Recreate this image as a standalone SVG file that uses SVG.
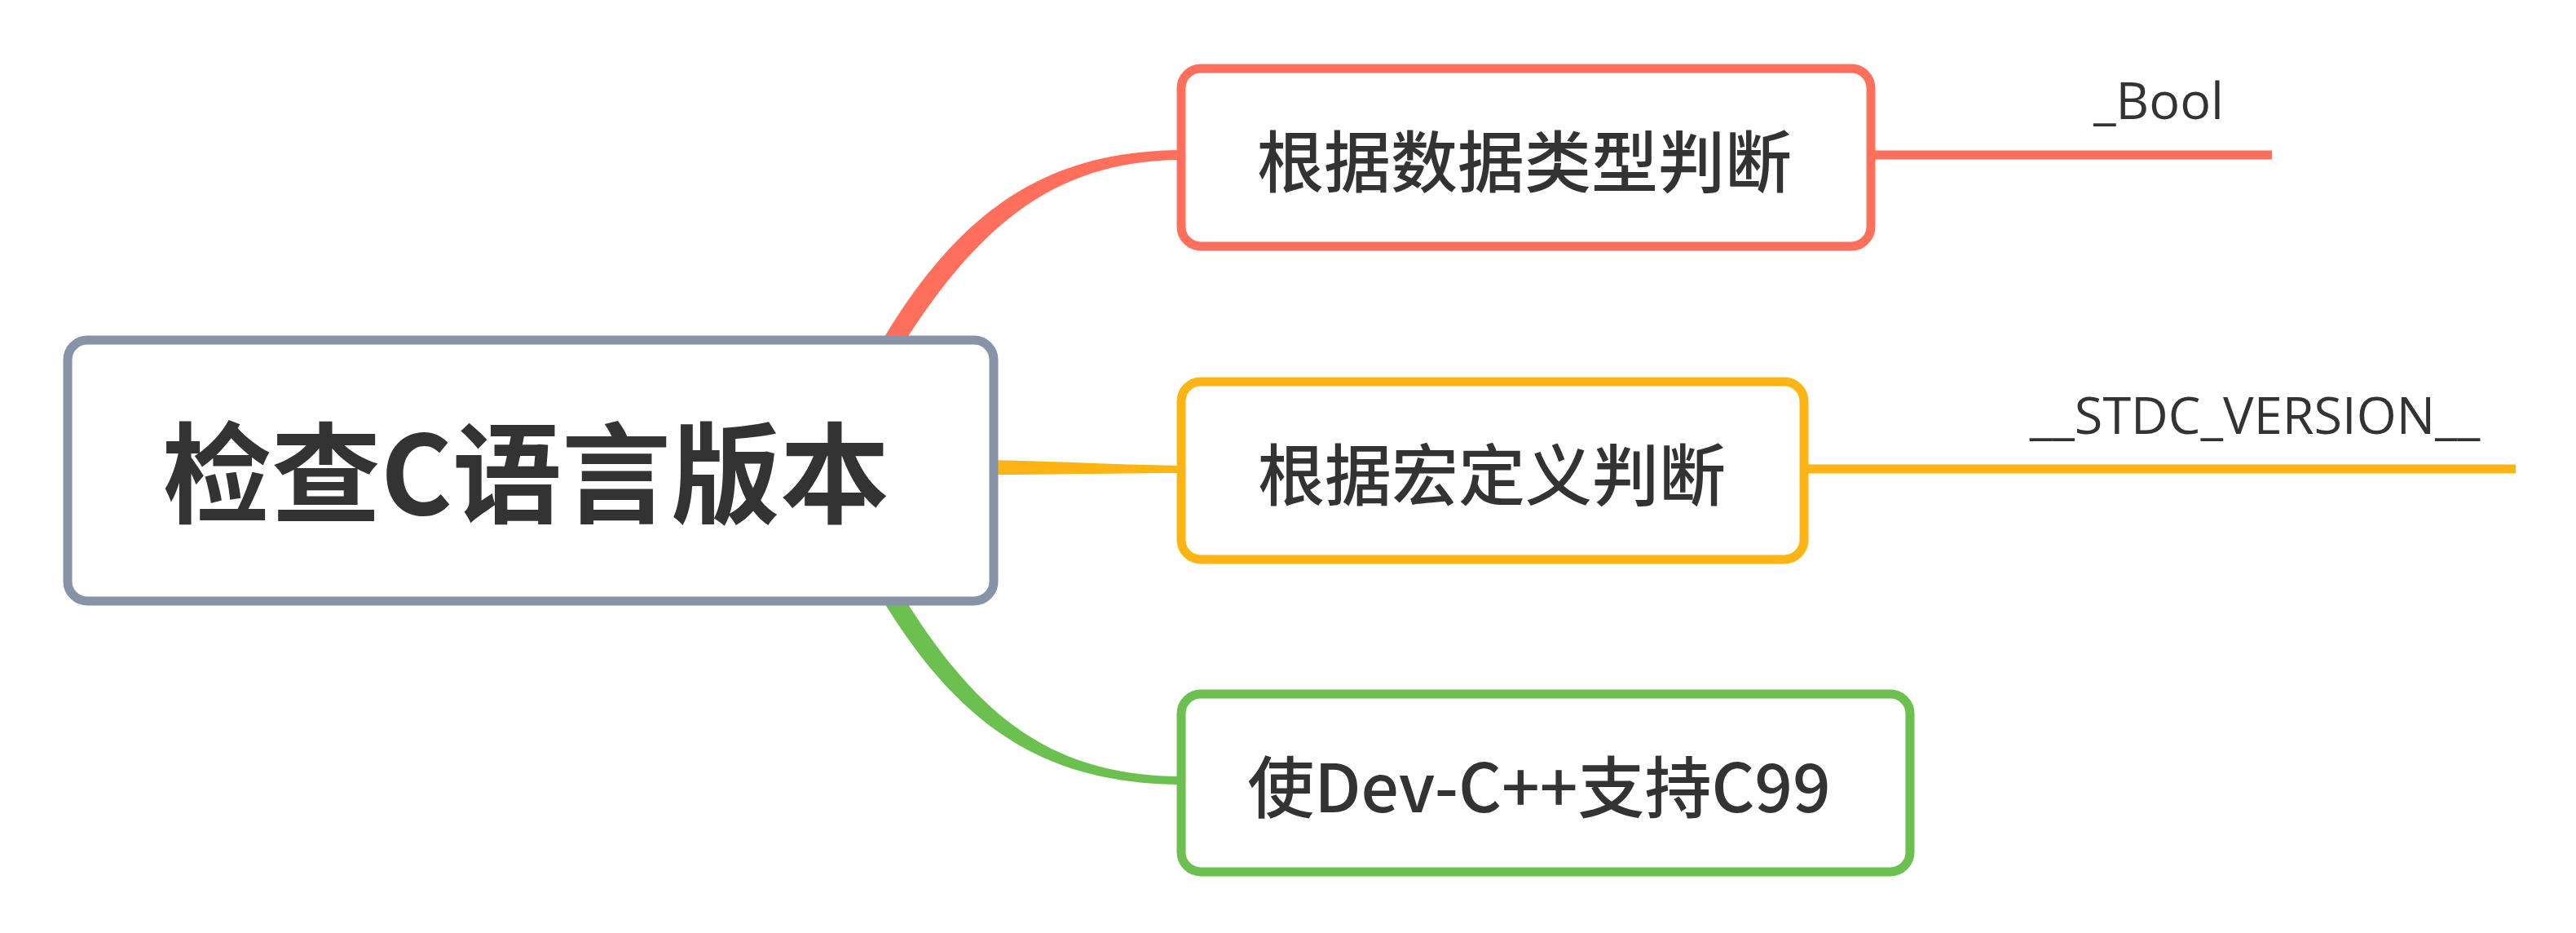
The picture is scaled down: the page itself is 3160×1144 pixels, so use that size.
<svg xmlns="http://www.w3.org/2000/svg" width="3160" height="1144" viewBox="0 0 3160 1144">
<style>
.box{fill:#fff;stroke-width:11}
.t{font-family:"Noto Sans CJK SC","Noto Sans",sans-serif;fill:#333;text-anchor:middle;dominant-baseline:central}
.c{font-size:82px;font-weight:500}
.l{font-family:"Open Sans","Noto Sans",sans-serif;fill:#333;font-size:63px;text-anchor:middle}
</style>
<rect width="3160" height="1144" fill="#fff"/>
<g id="connectors">
<path d="M1078,425 C1180,250 1290,186 1447,184 L1447,196 C1300,198 1205,268 1106,425 Z" fill="#FF6F5C"/>
<path d="M1215,564 C1300,566 1380,570 1447,571 L1447,580 C1380,580 1300,582 1215,582 Z" fill="#FDB515"/>
<path d="M1078,728 C1180,900 1290,960 1447,962 L1447,952 C1300,950 1205,890 1106,728 Z" fill="#6CC04F"/>
<line x1="2295" y1="190" x2="2787" y2="190" stroke="#FF6F5C" stroke-width="11"/>
<line x1="2213" y1="575" x2="3086" y2="575" stroke="#FDB515" stroke-width="11"/>
</g>
<g id="root"><rect class="box" x="83" y="417" width="1136" height="320" rx="24" stroke="#8793A6"/><text class="t" x="645" y="573" font-size="134" font-weight="700">检查C语言版本</text></g>
<g id="n1"><rect class="box" x="1449" y="84" width="846" height="218" rx="24" stroke="#FF6F5C"/><text class="t c" x="1870" y="193">根据数据类型判断</text></g>
<g id="n2"><rect class="box" x="1449" y="468" width="764" height="218" rx="24" stroke="#FDB515"/><text class="t c" x="1830" y="577">根据宏定义判断</text></g>
<g id="n3"><rect class="box" x="1449" y="851" width="894" height="218" rx="24" stroke="#6CC04F"/><text class="t c" x="1888" y="960">使Dev-C++支持C99</text></g>
<g id="l1"><text class="l" x="2648" y="146">_Bool</text></g>
<g id="l2"><text class="l" x="2766" y="532">__STDC_VERSION__</text></g>
</svg>
